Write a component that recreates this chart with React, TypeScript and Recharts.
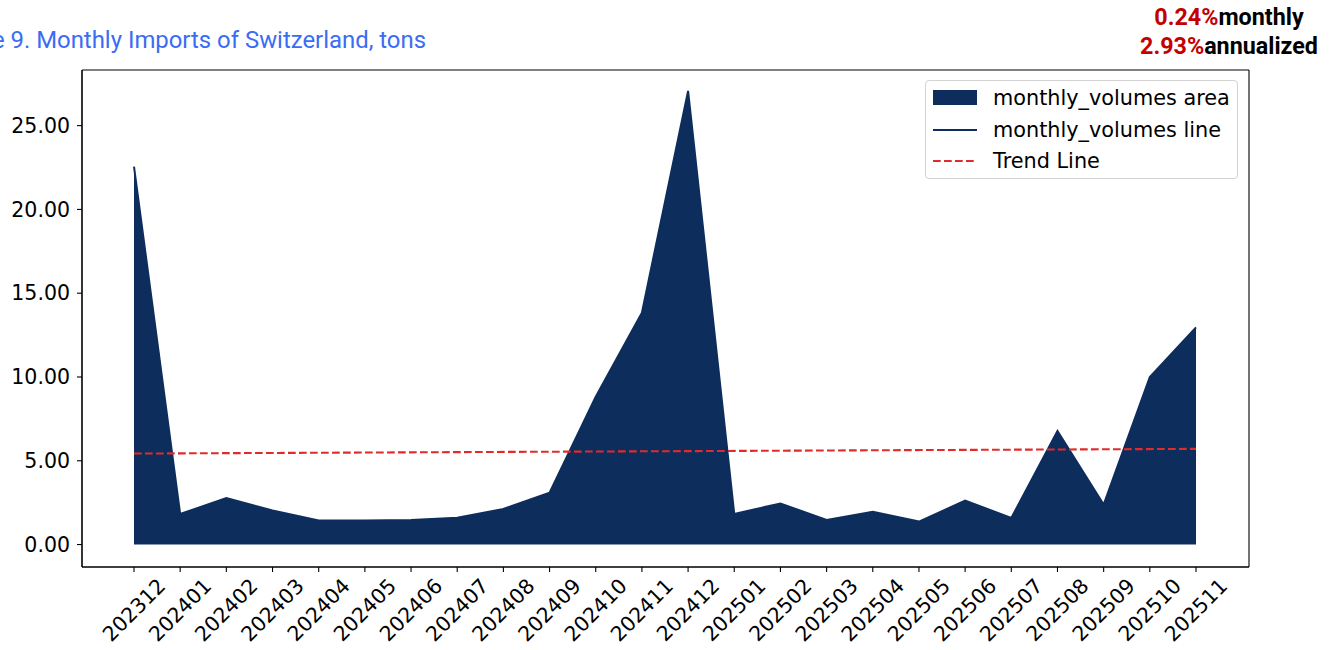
import React from 'react';
import { ComposedChart, Area, Line, XAxis, YAxis, CartesianGrid } from 'recharts';

const months = [
  '202312', '202401', '202402', '202403', '202404', '202405', '202406', '202407',
  '202408', '202409', '202410', '202411', '202412', '202501', '202502', '202503',
  '202504', '202505', '202506', '202507', '202508', '202509', '202510', '202511',
];

const volumes = [
  22.55, 1.82, 2.78, 2.03, 1.43, 1.43, 1.47, 1.6,
  2.12, 3.1, 8.83, 13.84, 27.07, 1.83, 2.45, 1.47,
  1.96, 1.37, 2.62, 1.59, 6.77, 2.39, 10.0, 12.96,
];

// trend line read at its two ends only
const trend: (number | null)[] = [
  5.43, null, null, null, null, null, null, null,
  null, null, null, null, null, null, null, null,
  null, null, null, null, null, null, null, 5.71,
];

const yTicks = [0, 5, 10, 15, 20, 25];

const data = months.map((m, i) => ({ month: m, vol: volumes[i], trend: trend[i] }));

const NAVY = '#0d2e5c';
const RED = '#df2b2b';
const FONT = '"DejaVu Sans", sans-serif';
const TICK_FS = 20.5;

const XTick = (props: any) => {
  const { x, y, payload } = props;
  const cx = x;
  const cy = y + 33;
  return (
    <text
      x={cx}
      y={cy}
      textAnchor="middle"
      dominantBaseline="central"
      transform={`rotate(-45, ${cx}, ${cy})`}
      fontFamily={FONT}
      fontSize={TICK_FS}
      fill="#000"
    >
      {payload.value}
    </text>
  );
};

export default function App() {
  return (
    <div style={{ position: 'absolute', left: 0, top: 0, width: 1338, height: 650, background: '#fff', overflow: 'hidden' }}>
      <div
        style={{
          position: 'absolute',
          right: 1338 - 426,
          top: 25,
          whiteSpace: 'nowrap',
          fontFamily: 'Roboto, sans-serif',
          fontSize: 23.9,
          lineHeight: '30px',
          color: '#3a6cf4',
        }}
      >
        Figure 9. Monthly Imports of Switzerland, tons
      </div>
      <div
        style={{
          position: 'absolute',
          left: 1229 - 150,
          width: 300,
          top: 3,
          textAlign: 'center',
          fontFamily: 'Roboto, sans-serif',
          fontWeight: 700,
          fontSize: 23.3,
          lineHeight: '28.5px',
          color: '#000',
        }}
      >
        <div><span style={{ color: '#c40000' }}>0.24%</span>monthly</div>
        <div><span style={{ color: '#c40000' }}>2.93%</span>annualized</div>
      </div>

      <ComposedChart
        width={1338}
        height={650}
        data={data}
        margin={{ top: 70, right: 89, bottom: 0, left: 0 }}
      >
        <CartesianGrid
          stroke="#000"
          strokeWidth={1.1}
          horizontalCoordinatesGenerator={() => [70, 567]}
          verticalCoordinatesGenerator={() => [82, 1249]}
        />
        <XAxis
          dataKey="month"
          type="category"
          interval={0}
          padding={{ left: 52, right: 53 }}
          height={83}
          tickSize={5}
          tickMargin={5}
          tick={<XTick />}
          axisLine={{ stroke: '#000', strokeWidth: 1.1 }}
          tickLine={{ stroke: '#000', strokeWidth: 1.1 }}
        />
        <YAxis
          type="number"
          domain={[-1.34, 28.32]}
          ticks={yTicks}
          width={82}
          tickSize={5}
          tickMargin={7}
          tickFormatter={(v: number) => v.toFixed(2)}
          tick={{ fontFamily: FONT, fontSize: TICK_FS, fill: '#000' }}
          axisLine={{ stroke: '#000', strokeWidth: 1.1 }}
          tickLine={{ stroke: '#000', strokeWidth: 1.1 }}
          allowDataOverflow
        />
        <Area
          type="linear"
          dataKey="vol"
          baseValue={0}
          fill={NAVY}
          fillOpacity={1}
          stroke={NAVY}
          strokeWidth={2}
          dot={false}
          activeDot={false}
          isAnimationActive={false}
        />
        <Line
          type="linear"
          dataKey="trend"
          connectNulls
          stroke={RED}
          strokeWidth={2.1}
          strokeDasharray="7.7 3.3"
          dot={false}
          activeDot={false}
          isAnimationActive={false}
        />
      </ComposedChart>

      <div
        style={{
          position: 'absolute',
          left: 925,
          top: 80,
          width: 311,
          height: 97,
          border: '1px solid #d3d3d3',
          borderRadius: 4,
          background: 'rgba(255,255,255,0.8)',
          fontFamily: FONT,
          fontSize: 20.8,
          color: '#000',
        }}
      >
        {[
          { label: 'monthly_volumes area', kind: 'area' },
          { label: 'monthly_volumes line', kind: 'line' },
          { label: 'Trend Line', kind: 'dash' },
        ].map((e, i) => (
          <div
            key={e.label}
            style={{ position: 'absolute', left: 7, top: 4 + i * 31.5, height: 26, display: 'flex', alignItems: 'center', whiteSpace: 'nowrap' }}
          >
            <svg width={44} height={26} style={{ display: 'block' }}>
              {e.kind === 'area' && <rect x={0} y={5} width={44} height={15} fill={NAVY} />}
              {e.kind === 'line' && <line x1={0} x2={44} y1={13} y2={13} stroke={NAVY} strokeWidth={2} />}
              {e.kind === 'dash' && (
                <line x1={0} x2={44} y1={13} y2={13} stroke={RED} strokeWidth={2.1} strokeDasharray="7.7 3.3" />
              )}
            </svg>
            <span style={{ marginLeft: 16, lineHeight: '26px' }}>{e.label}</span>
          </div>
        ))}
      </div>
    </div>
  );
}
